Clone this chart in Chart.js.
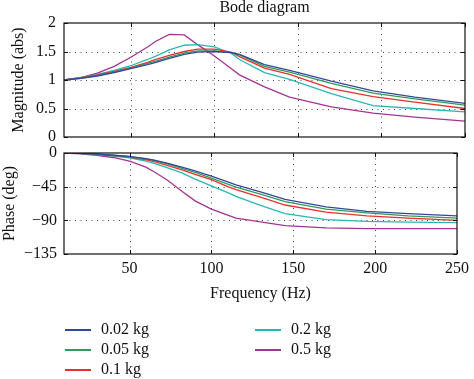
<!DOCTYPE html>
<html><head><meta charset="utf-8">
<script src="https://cdn.jsdelivr.net/npm/chart.js@4"></script>
<style>
body{margin:0;width:474px;height:379px;background:#fff;overflow:hidden;position:relative;font-family:"Liberation Serif",serif}
canvas{position:absolute;left:0;top:0}
.leg{position:absolute;font-size:16px;color:#111;line-height:18px;white-space:nowrap;width:120px;height:18px}
.leg .sw{position:absolute;left:0;top:9px;width:26px;height:1.5px}
.leg .tx{position:absolute;left:36px;top:0}
</style></head>
<body>
<canvas id="mag" width="474" height="379"></canvas>
<canvas id="ph" width="474" height="379"></canvas>
<div id="legend"></div>
<script>
// ---- data ----
const freq = [10, 20, 30, 40, 50, 60, 65, 73, 82, 90, 100, 110, 115, 130, 145, 170, 195, 220, 250];
const seriesNames = ["0.02 kg", "0.05 kg", "0.1 kg", "0.2 kg", "0.5 kg"];
const seriesColors = ["#34479a", "#2f9a5c", "#e8312c", "#27b8b4", "#a13594"];

const mag002 = [1.00, 1.03, 1.07, 1.13, 1.20, 1.27, 1.31, 1.38, 1.45, 1.49, 1.50, 1.48, 1.45, 1.27, 1.17, 0.98, 0.81, 0.70, 0.59];
const mag005 = [1.00, 1.03, 1.08, 1.14, 1.21, 1.29, 1.33, 1.40, 1.47, 1.51, 1.51, 1.48, 1.44, 1.24, 1.14, 0.94, 0.77, 0.67, 0.56];
const mag01  = [1.00, 1.04, 1.09, 1.15, 1.22, 1.31, 1.36, 1.43, 1.50, 1.54, 1.54, 1.49, 1.41, 1.21, 1.10, 0.85, 0.71, 0.61, 0.50];
const mag02  = [1.00, 1.04, 1.10, 1.17, 1.25, 1.36, 1.42, 1.53, 1.61, 1.62, 1.58, 1.47, 1.36, 1.13, 1.01, 0.76, 0.55, 0.50, 0.44];
const mag05  = [1.00, 1.04, 1.12, 1.24, 1.40, 1.58, 1.68, 1.80, 1.79, 1.62, 1.42, 1.20, 1.09, 0.88, 0.70, 0.53, 0.42, 0.35, 0.28];

const ph002 = [0, -0.5, -1.5, -3, -4.5, -7.5, -9.5, -13.5, -19, -24, -31, -38.5, -42.5, -52, -62, -72, -78, -81, -84];
const ph005 = [0, -0.5, -1.5, -3, -5, -8, -10, -14.5, -20.5, -26, -33.5, -41.5, -45.5, -55, -65, -75, -80, -84, -87];
const ph01  = [0, -0.5, -1.5, -3.5, -5.5, -9, -11.5, -16.5, -22.5, -28.5, -35.5, -45, -49, -59, -69.5, -79, -84, -87, -90];
const ph02  = [0, -0.5, -2, -4, -6.5, -11, -14, -19.5, -26.5, -35, -44, -53, -58, -70, -81, -89, -91.5, -92.5, -93];
const ph05  = [0, -1, -3, -6, -11, -19, -25, -36, -51, -64, -75, -83, -87, -92, -97, -100, -101, -101, -101];

const freqTicks = [50, 100, 150, 200, 250];
const magTicks = [0, 0.5, 1, 1.5, 2];
const phaseTicks = [-135, -90, -45, 0];

const magSeries = [mag002, mag005, mag01, mag02, mag05];
const phaseSeries = [ph002, ph005, ph01, ph02, ph05];

// ---- helpers ----
const FONT = "'Liberation Serif', 'DejaVu Serif', serif";
function mkDatasets(list) {
  return list.map((vals, i) => ({
    label: seriesNames[i],
    data: freq.map((f, j) => ({x: f, y: vals[j]})),
    borderColor: seriesColors[i],
    backgroundColor: seriesColors[i],
    borderWidth: 1.3,
    pointRadius: 0,
    tension: 0,
    fill: false
  }));
}
// dotted grid (drawn from the scales' ticks) + boxed frame with inward tick marks
const framePlugin = {
  id: 'frame',
  beforeDatasetsDraw(chart) {
    const {ctx, chartArea: a, scales} = chart;
    ctx.save();
    ctx.strokeStyle = '#444';
    ctx.lineWidth = 1;
    ctx.setLineDash([1, 4.5]);
    scales.x.ticks.forEach(t => {
      const px = Math.round(scales.x.getPixelForValue(t.value)) + 0.5;
      if (px <= a.left + 1 || px >= a.right - 1) return;
      ctx.beginPath(); ctx.moveTo(px, a.top); ctx.lineTo(px, a.bottom); ctx.stroke();
    });
    scales.y.ticks.forEach(t => {
      const py = Math.round(scales.y.getPixelForValue(t.value)) + 0.5;
      if (py <= a.top + 1 || py >= a.bottom - 1) return;
      ctx.beginPath(); ctx.moveTo(a.left, py); ctx.lineTo(a.right, py); ctx.stroke();
    });
    ctx.restore();
  },
  afterDraw(chart) {
    const {ctx, chartArea: a, scales} = chart;
    ctx.save();
    ctx.strokeStyle = '#111';
    ctx.lineWidth = 1.2;
    ctx.strokeRect(a.left, a.top, a.right - a.left, a.bottom - a.top);
    ctx.lineWidth = 1;
    const tl = 4;
    scales.x.ticks.forEach(t => {
      const px = Math.round(scales.x.getPixelForValue(t.value)) + 0.5;
      ctx.beginPath();
      ctx.moveTo(px, a.bottom); ctx.lineTo(px, a.bottom - tl);
      ctx.moveTo(px, a.top); ctx.lineTo(px, a.top + tl);
      ctx.stroke();
    });
    scales.y.ticks.forEach(t => {
      const py = Math.round(scales.y.getPixelForValue(t.value)) + 0.5;
      ctx.beginPath();
      ctx.moveTo(a.left, py); ctx.lineTo(a.left + tl, py);
      ctx.moveTo(a.right, py); ctx.lineTo(a.right - tl, py);
      ctx.stroke();
    });
    ctx.restore();
  }
};
const gridOpts = {display: false, drawTicks: false};
const borderOpts = {display: false};
function setTicks(arr) { return scale => { scale.ticks = arr.map(v => ({value: v})); }; }
const tickFont = {size: 16, family: FONT};
const titleFont = {size: 16, family: FONT, lineHeight: 1.2};

Chart.defaults.font.family = FONT;
Chart.defaults.color = '#111';

new Chart(document.getElementById('mag'), {
  type: 'line',
  data: {datasets: mkDatasets(magSeries)},
  options: {
    responsive: false, animation: false, events: [],
    layout: {padding: {top: 0, left: 0, right: 9, bottom: 242}},
    plugins: {
      legend: {display: false}, tooltip: {enabled: false},
      title: {display: true, text: 'Bode diagram', fullSize: false, color: '#111',
        font: {size: 16, weight: 'normal', family: FONT, lineHeight: 1.0}, padding: {top: 0, bottom: 7}}
    },
    scales: {
      x: {type: 'linear', min: 10, max: 250, afterBuildTicks: setTicks(freqTicks),
        afterFit: s => { s.height = 0; },
        ticks: {display: false}, border: borderOpts, grid: gridOpts},
      y: {min: 0, max: 2, afterBuildTicks: setTicks(magTicks),
        afterFit: s => { s.width = 64; },
        border: borderOpts, grid: gridOpts,
        ticks: {padding: 8, font: tickFont, color: '#111', callback: v => String(v)},
        title: {display: true, text: 'Magnitude (abs)', color: '#111', font: titleFont, padding: {top: 9, bottom: 0}}}
    }
  },
  plugins: [framePlugin]
});

new Chart(document.getElementById('ph'), {
  type: 'line',
  data: {datasets: mkDatasets(phaseSeries)},
  options: {
    responsive: false, animation: false, events: [],
    layout: {padding: {top: 153, left: 0, right: 9, bottom: 75}},
    plugins: {legend: {display: false}, tooltip: {enabled: false}, title: {display: false}},
    scales: {
      x: {type: 'linear', min: 10, max: 250, afterBuildTicks: setTicks(freqTicks),
        afterFit: s => { s.height = 50; },
        border: borderOpts, grid: gridOpts,
        ticks: {padding: 5, font: tickFont, color: '#111', maxRotation: 0, callback: v => String(v)},
        title: {display: true, text: 'Frequency (Hz)', color: '#111', font: titleFont, padding: {top: 0, bottom: 1}}},
      y: {min: -135, max: 0, afterBuildTicks: setTicks(phaseTicks),
        afterFit: s => { s.width = 64; },
        border: borderOpts, grid: gridOpts,
        ticks: {padding: 7, font: tickFont, color: '#111', callback: v => String(v).replace('-', '\u2212')},
        title: {display: true, text: 'Phase (deg)', color: '#111', font: titleFont, padding: {top: 0, bottom: 0}}}
    }
  },
  plugins: [framePlugin]
});

// ---- legend ----
const legPos = [[65, 320], [65, 340], [65, 360], [255, 320], [255, 340]];
const legEl = document.getElementById('legend');
seriesNames.forEach((n, i) => {
  const d = document.createElement('div');
  d.className = 'leg';
  d.style.left = legPos[i][0] + 'px';
  d.style.top = legPos[i][1] + 'px';
  const sw = document.createElement('div');
  sw.className = 'sw';
  sw.style.backgroundColor = seriesColors[i];
  const tx = document.createElement('div');
  tx.className = 'tx';
  tx.textContent = n;
  d.appendChild(sw); d.appendChild(tx);
  legEl.appendChild(d);
});
</script>
</body></html>
